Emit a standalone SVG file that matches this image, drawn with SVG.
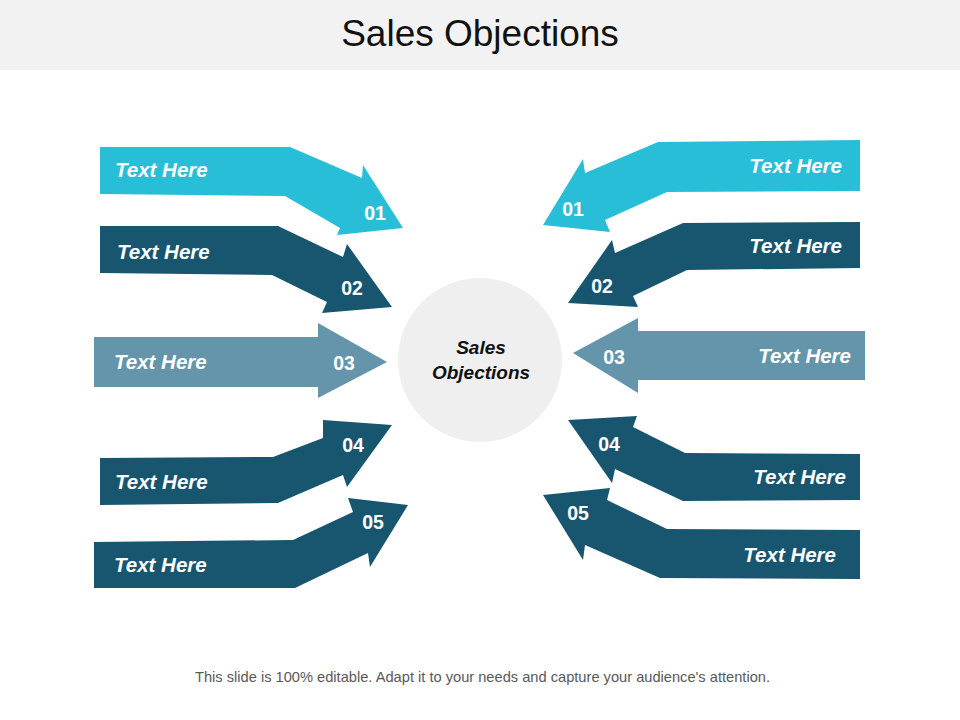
<svg xmlns="http://www.w3.org/2000/svg" width="960" height="720" viewBox="0 0 960 720">
<style>
.cyan{fill:#29BED8}
.dark{fill:#18566F}
.mid{fill:#6595AA}
.lbl{font-family:"Liberation Sans",Arial,sans-serif;font-size:20.5px;font-weight:bold;font-style:italic;fill:#FFFFFF}
.num{font-family:"Liberation Sans",Arial,sans-serif;font-size:19.5px;font-weight:bold;fill:#FFFFFF;text-anchor:middle}
.end{text-anchor:end}
</style>
<rect x="0" y="0" width="960" height="70" fill="#F2F2F2"/>
<text x="480" y="46" font-family="'Liberation Sans',Arial,sans-serif" font-size="37" fill="#111111" text-anchor="middle">Sales Objections</text>

<g id="center">
<circle cx="480" cy="360" r="82" fill="#EFEFEF"/>
<text x="481" y="354" font-family="'Liberation Sans',Arial,sans-serif" font-size="19" font-weight="bold" font-style="italic" fill="#111111" text-anchor="middle">Sales</text>
<text x="481" y="379" font-family="'Liberation Sans',Arial,sans-serif" font-size="19" font-weight="bold" font-style="italic" fill="#111111" text-anchor="middle">Objections</text>
</g>

<g id="connectors">
<g id="left01">
<path class="cyan" d="M100,147 L290,147 L362,178 L363,165 L403,228 L337,235 L340,228 L285,196 L100,194 Z"/>
<text class="lbl" x="115" y="177">Text Here</text>
<text class="num" x="375" y="220">01</text>
</g>
<g id="left02">
<path class="dark" d="M100,226 L278,226 L343,257 L347,244 L392,307 L322,313 L327,302 L272,275 L100,273 Z"/>
<text class="lbl" x="117" y="259">Text Here</text>
<text class="num" x="352" y="295">02</text>
</g>
<g id="left03">
<path class="mid" d="M94,337 L318,337 L318,323 L387,362 L318,398 L318,387 L94,387 Z"/>
<text class="lbl" x="114" y="369">Text Here</text>
<text class="num" x="344" y="370">03</text>
</g>
<g id="left04">
<path class="dark" d="M100,458 L273,457 L323,438 L323,420 L392,425 L347,487 L343,475 L278,503 L100,505 Z"/>
<text class="lbl" x="115" y="489">Text Here</text>
<text class="num" x="353" y="452">04</text>
</g>
<g id="left05">
<path class="dark" d="M94,542 L293,540 L353,512 L348,498 L408,505 L370,567 L368,553 L295,588 L94,588 Z"/>
<text class="lbl" x="114" y="572">Text Here</text>
<text class="num" x="373" y="529">05</text>
</g>

<g id="right01">
<path class="cyan" d="M860,140 L658,142 L585,173 L583,159 L543,225 L610,232 L605,220 L667,192 L860,191 Z"/>
<text class="lbl end" x="842" y="173">Text Here</text>
<text class="num" x="573" y="216">01</text>
</g>
<g id="right02">
<path class="dark" d="M860,222 L683,223 L615,253 L612,240 L568,303 L638,307 L633,296 L687,270 L860,268 Z"/>
<text class="lbl end" x="842" y="253">Text Here</text>
<text class="num" x="602" y="293">02</text>
</g>
<g id="right03">
<path class="mid" d="M865,331 L638,331 L638,318 L573,353 L638,393 L638,380 L865,380 Z"/>
<text class="lbl end" x="851" y="363">Text Here</text>
<text class="num" x="614" y="364">03</text>
</g>
<g id="right04">
<path class="dark" d="M860,454 L685,453 L633,427 L637,416 L568,420 L612,483 L615,469 L683,501 L860,500 Z"/>
<text class="lbl end" x="846" y="484">Text Here</text>
<text class="num" x="609" y="451">04</text>
</g>
<g id="right05">
<path class="dark" d="M860,530 L667,529 L607,500 L610,488 L543,495 L583,560 L585,545 L660,578 L860,579 Z"/>
<text class="lbl end" x="836" y="562">Text Here</text>
<text class="num" x="578" y="520">05</text>
</g>
</g>

<text x="195" y="682" font-family="'Liberation Sans',Arial,sans-serif" font-size="14.5" fill="#595959" textLength="575" lengthAdjust="spacingAndGlyphs">This slide is 100% editable.  Adapt it to your needs and capture your audience's attention.</text>
</svg>
